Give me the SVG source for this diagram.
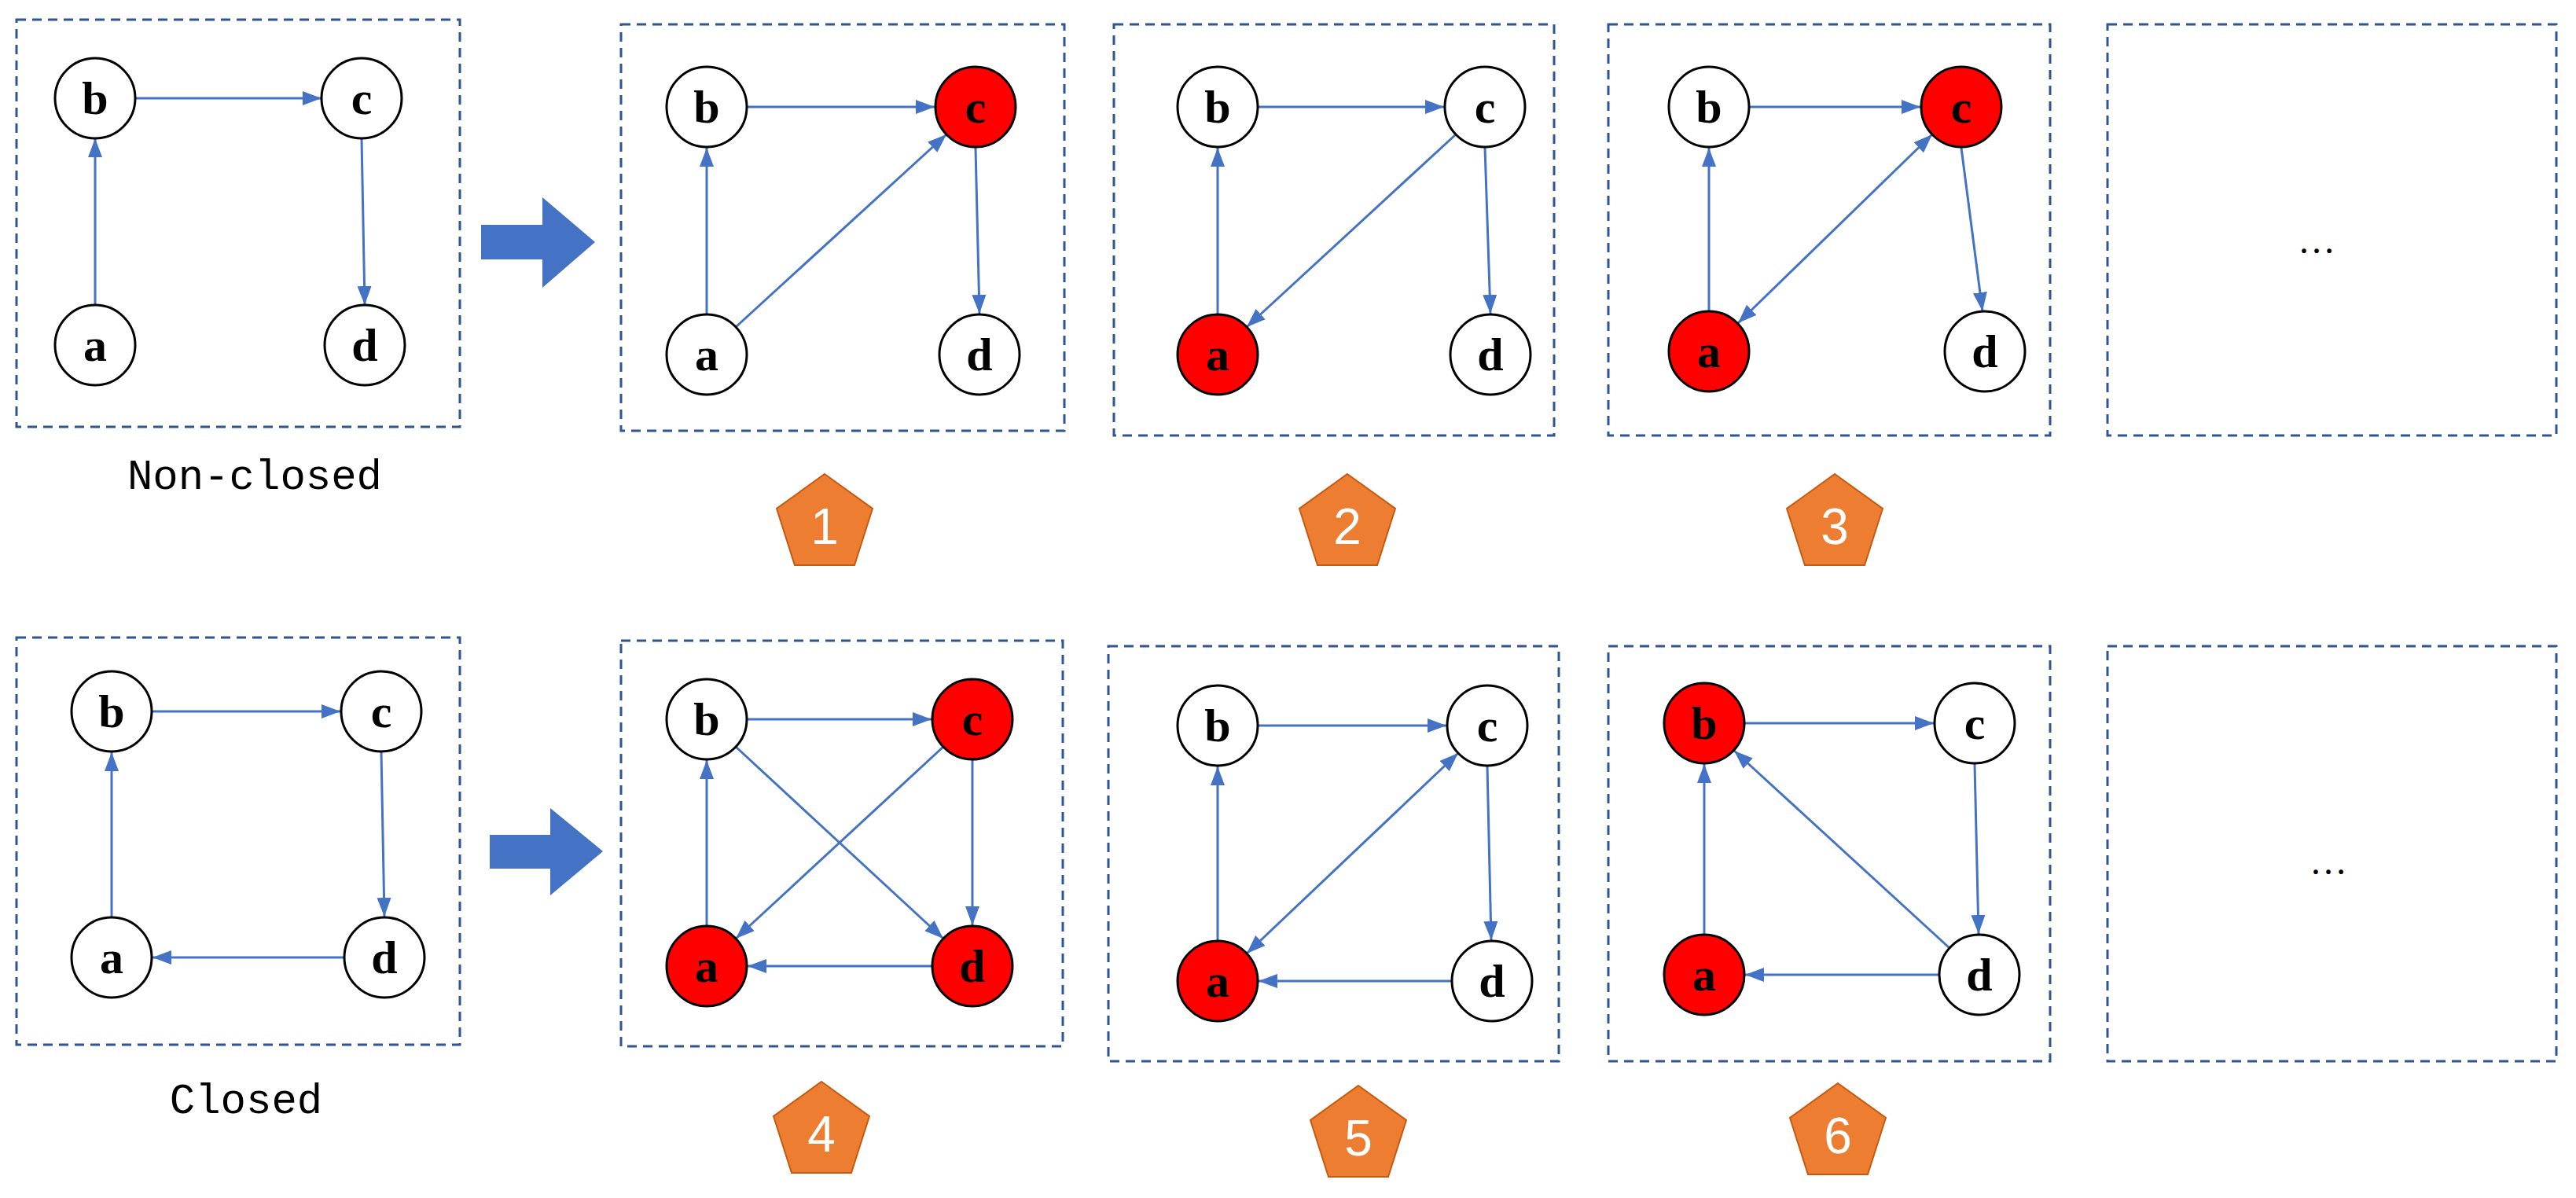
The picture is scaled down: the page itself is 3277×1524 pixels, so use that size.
<svg xmlns="http://www.w3.org/2000/svg" width="3277" height="1524" viewBox="0 0 3277 1524">
<style>
.box{fill:none;stroke:#2F5597;stroke-width:3;stroke-dasharray:12 8}
.n{fill:#fff;stroke:#000;stroke-width:3}
.r{fill:#FF0000;stroke:#000;stroke-width:3}
.t{font-family:"Liberation Serif",serif;font-weight:bold;font-size:60px;text-anchor:middle}
.e{stroke:#4472C4;stroke-width:3;fill:none;marker-end:url(#ah)}
.bi{marker-start:url(#ah)}
.pg{fill:#ED7D31;stroke:#C55A11;stroke-width:2}
.pt{font-family:"Liberation Sans",sans-serif;font-size:64px;fill:#fff;text-anchor:middle}
.lbl{font-family:"Liberation Mono",monospace;font-size:54px;text-anchor:middle}
.big{fill:#4472C4}
</style>
<defs>
<marker id="ah" markerUnits="userSpaceOnUse" markerWidth="26" markerHeight="20" refX="24" refY="9" orient="auto-start-reverse"><path d="M0,0 L24,9 L0,18 z" fill="#4472C4"/></marker>
<polygon id="pent" points="0,-64 61,-20 38,52 -38,52 -61,-20"/>
</defs>
<rect width="3277" height="1524" fill="#fff"/>
<g id="frames">
<rect class="box" x="21" y="25" width="564" height="518"/>
<rect class="box" x="790" y="31" width="564" height="517"/>
<rect class="box" x="1417" y="31" width="560" height="523"/>
<rect class="box" x="2046" y="31" width="562" height="523"/>
<rect class="box" x="2681" y="31" width="571" height="523"/>
<rect class="box" x="21" y="811" width="564" height="518"/>
<rect class="box" x="790" y="815" width="562" height="516"/>
<rect class="box" x="1410" y="822" width="573" height="528"/>
<rect class="box" x="2046" y="822" width="562" height="528"/>
<rect class="box" x="2681" y="822" width="571" height="528"/>
</g>
<g id="bigarrows">
<polygon class="big" points="612,286 690,286 690,251 757,308 690,366 690,330 612,330"/>
<polygon class="big" points="623,1062 700,1062 700,1028 767,1083 700,1139 700,1105 623,1105"/>
</g>
<g id="connectors">
<line class="e" x1="121" y1="389" x2="121" y2="176"/>
<line class="e" x1="172" y1="125" x2="409" y2="125"/>
<line class="e" x1="460" y1="176" x2="464" y2="388"/>

<line class="e" x1="899" y1="400" x2="899" y2="188"/>
<line class="e" x1="951" y1="136" x2="1189" y2="136"/>
<line class="e" x1="1241" y1="188" x2="1246" y2="399"/>
<line class="e" x1="936" y1="416" x2="1204" y2="171"/>

<line class="e" x1="1549" y1="400" x2="1549" y2="188"/>
<line class="e" x1="1601" y1="136" x2="1837" y2="136"/>
<line class="e" x1="1889" y1="188" x2="1896" y2="399"/>
<line class="e" x1="1852" y1="171" x2="1586" y2="416"/>

<line class="e" x1="2174" y1="396" x2="2174" y2="188"/>
<line class="e" x1="2226" y1="136" x2="2443" y2="136"/>
<line class="e" x1="2495" y1="188" x2="2522" y2="396"/>
<line class="e bi" x1="2211" y1="411" x2="2458" y2="171"/>

<line class="e" x1="142" y1="1167" x2="142" y2="957"/>
<line class="e" x1="194" y1="905" x2="433" y2="905"/>
<line class="e" x1="485" y1="957" x2="489" y2="1166"/>
<line class="e" x1="437" y1="1218" x2="194" y2="1218"/>

<line class="e" x1="899" y1="1178" x2="899" y2="967"/>
<line class="e" x1="951" y1="915" x2="1185" y2="915"/>
<line class="e" x1="1237" y1="967" x2="1237" y2="1177"/>
<line class="e" x1="1185" y1="1229" x2="951" y2="1229"/>
<line class="e" x1="1200" y1="950" x2="936" y2="1194"/>
<line class="e" x1="936" y1="950" x2="1200" y2="1194"/>

<line class="e" x1="1549" y1="1197" x2="1549" y2="975"/>
<line class="e" x1="1601" y1="923" x2="1840" y2="923"/>
<line class="e" x1="1892" y1="975" x2="1897" y2="1196"/>
<line class="e" x1="1846" y1="1248" x2="1601" y2="1248"/>
<line class="e bi" x1="1586" y1="1213" x2="1855" y2="958"/>

<line class="e" x1="2168" y1="1189" x2="2168" y2="972"/>
<line class="e" x1="2220" y1="920" x2="2460" y2="920"/>
<line class="e" x1="2512" y1="972" x2="2517" y2="1188"/>
<line class="e" x1="2466" y1="1240" x2="2220" y2="1240"/>
<line class="e" x1="2480" y1="1206" x2="2206" y2="955"/>
</g>
<g id="g0">
<g id="g0b"><circle class="n" cx="121" cy="125" r="51"/><text class="t" x="121" y="145">b</text></g>
<g id="g0c"><circle class="n" cx="460" cy="125" r="51"/><text class="t" x="460" y="145">c</text></g>
<g id="g0a"><circle class="n" cx="121" cy="439" r="51"/><text class="t" x="121" y="459">a</text></g>
<g id="g0d"><circle class="n" cx="464" cy="439" r="51"/><text class="t" x="464" y="459">d</text></g>
<text class="lbl" x="324" y="622">Non-closed</text>
</g>
<g id="g1">
<g id="g1b"><circle class="n" cx="899" cy="136" r="51"/><text class="t" x="899" y="156">b</text></g>
<g id="g1c"><circle class="r" cx="1241" cy="136" r="51"/><text class="t" x="1241" y="156">c</text></g>
<g id="g1a"><circle class="n" cx="899" cy="451" r="51"/><text class="t" x="899" y="471">a</text></g>
<g id="g1d"><circle class="n" cx="1246" cy="451" r="51"/><text class="t" x="1246" y="471">d</text></g>
</g>
<g id="g2">
<g id="g2b"><circle class="n" cx="1549" cy="136" r="51"/><text class="t" x="1549" y="156">b</text></g>
<g id="g2c"><circle class="n" cx="1889" cy="136" r="51"/><text class="t" x="1889" y="156">c</text></g>
<g id="g2a"><circle class="r" cx="1549" cy="451" r="51"/><text class="t" x="1549" y="471">a</text></g>
<g id="g2d"><circle class="n" cx="1896" cy="451" r="51"/><text class="t" x="1896" y="471">d</text></g>
</g>
<g id="g3">
<g id="g3b"><circle class="n" cx="2174" cy="136" r="51"/><text class="t" x="2174" y="156">b</text></g>
<g id="g3c"><circle class="r" cx="2495" cy="136" r="51"/><text class="t" x="2495" y="156">c</text></g>
<g id="g3a"><circle class="r" cx="2174" cy="447" r="51"/><text class="t" x="2174" y="467">a</text></g>
<g id="g3d"><circle class="n" cx="2525" cy="447" r="51"/><text class="t" x="2525" y="467">d</text></g>
</g>
<text id="dots1" x="2947" y="322" font-family="Liberation Serif,serif" font-size="48" text-anchor="middle">…</text>
<g id="g5">
<g id="g5b"><circle class="n" cx="142" cy="905" r="51"/><text class="t" x="142" y="925">b</text></g>
<g id="g5c"><circle class="n" cx="485" cy="905" r="51"/><text class="t" x="485" y="925">c</text></g>
<g id="g5a"><circle class="n" cx="142" cy="1218" r="51"/><text class="t" x="142" y="1238">a</text></g>
<g id="g5d"><circle class="n" cx="489" cy="1218" r="51"/><text class="t" x="489" y="1238">d</text></g>
<text class="lbl" x="313" y="1416">Closed</text>
</g>
<g id="g4">
<g id="g4b"><circle class="n" cx="899" cy="915" r="51"/><text class="t" x="899" y="935">b</text></g>
<g id="g4c"><circle class="r" cx="1237" cy="915" r="51"/><text class="t" x="1237" y="935">c</text></g>
<g id="g4a"><circle class="r" cx="899" cy="1229" r="51"/><text class="t" x="899" y="1249">a</text></g>
<g id="g4d"><circle class="r" cx="1237" cy="1229" r="51"/><text class="t" x="1237" y="1249">d</text></g>
</g>
<g id="g6">
<g id="g6b"><circle class="n" cx="1549" cy="923" r="51"/><text class="t" x="1549" y="943">b</text></g>
<g id="g6c"><circle class="n" cx="1892" cy="923" r="51"/><text class="t" x="1892" y="943">c</text></g>
<g id="g6a"><circle class="r" cx="1549" cy="1248" r="51"/><text class="t" x="1549" y="1268">a</text></g>
<g id="g6d"><circle class="n" cx="1898" cy="1248" r="51"/><text class="t" x="1898" y="1268">d</text></g>
</g>
<g id="g7">
<g id="g7b"><circle class="r" cx="2168" cy="920" r="51"/><text class="t" x="2168" y="940">b</text></g>
<g id="g7c"><circle class="n" cx="2512" cy="920" r="51"/><text class="t" x="2512" y="940">c</text></g>
<g id="g7a"><circle class="r" cx="2168" cy="1240" r="51"/><text class="t" x="2168" y="1260">a</text></g>
<g id="g7d"><circle class="n" cx="2518" cy="1240" r="51"/><text class="t" x="2518" y="1260">d</text></g>
</g>
<text id="dots2" x="2962" y="1112" font-family="Liberation Serif,serif" font-size="48" text-anchor="middle">…</text>
<g id="badges">
<g id="p1"><use href="#pent" class="pg" x="1049" y="667"/><text class="pt" x="1049" y="692">1</text></g>
<g id="p2"><use href="#pent" class="pg" x="1714" y="667"/><text class="pt" x="1714" y="692">2</text></g>
<g id="p3"><use href="#pent" class="pg" x="2334" y="667"/><text class="pt" x="2334" y="692">3</text></g>
<g id="p4"><use href="#pent" class="pg" x="1045" y="1440"/><text class="pt" x="1045" y="1465">4</text></g>
<g id="p5"><use href="#pent" class="pg" x="1728" y="1445"/><text class="pt" x="1728" y="1470">5</text></g>
<g id="p6"><use href="#pent" class="pg" x="2338" y="1442"/><text class="pt" x="2338" y="1467">6</text></g>
</g>
</svg>
